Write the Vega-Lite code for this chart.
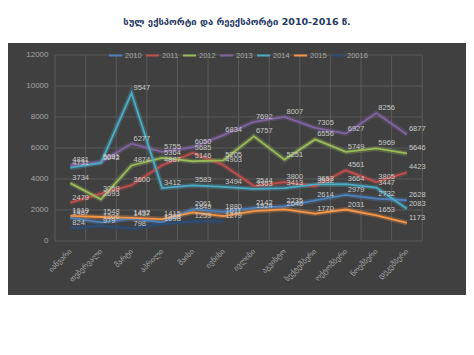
{
  "$schema": "https://vega.github.io/schema/vega-lite/v6.json",
  "width": 458,
  "height": 252,
  "autosize": "none",
  "padding": {"left": 8, "top": 43, "right": 8, "bottom": 60},
  "background": "white",
  "config": {
    "view": {"fill": "#404040", "stroke": null},
    "axis": {"grid": false, "domain": false, "ticks": false, "labelColor": "#a6a6a6", "labelFont": "Liberation Sans", "labelFontSize": 8}
  },
  "title": {
    "text": "სულ ექსპორტი და რეექსპორტი 2010-2016 წ.",
    "font": "DejaVu Sans",
    "fontSize": 9.5,
    "fontWeight": "bold",
    "color": "#1f3864",
    "anchor": "middle",
    "offset": 17
  },
  "datasets": {
    "ygrid": [{"g": 0}, {"g": 2000}, {"g": 4000}, {"g": 6000}, {"g": 8000}, {"g": 10000}, {"g": 12000}],
    "xgrid": [{"b": 0.5}, {"b": 1.5}, {"b": 2.5}, {"b": 3.5}, {"b": 4.5}, {"b": 5.5}, {"b": 6.5}, {"b": 7.5}, {"b": 8.5}, {"b": 9.5}, {"b": 10.5}, {"b": 11.5}, {"b": 12.5}],
    "trade": [
      {"m": 1, "year": "2010", "v": 1487}, {"m": 2, "year": "2010", "v": 1206}, {"m": 3, "year": "2010", "v": 1437}, {"m": 4, "year": "2010", "v": 1208}, {"m": 5, "year": "2010", "v": 2061}, {"m": 6, "year": "2010", "v": 1880}, {"m": 7, "year": "2010", "v": 2142}, {"m": 8, "year": "2010", "v": 2235}, {"m": 9, "year": "2010", "v": 2614}, {"m": 10, "year": "2010", "v": 2979}, {"m": 11, "year": "2010", "v": 2732}, {"m": 12, "year": "2010", "v": 2628},
      {"m": 1, "year": "2011", "v": 2479}, {"m": 2, "year": "2011", "v": 3059}, {"m": 3, "year": "2011", "v": 3600}, {"m": 4, "year": "2011", "v": 4887}, {"m": 5, "year": "2011", "v": 5685}, {"m": 6, "year": "2011", "v": 4903}, {"m": 7, "year": "2011", "v": 3544}, {"m": 8, "year": "2011", "v": 3800}, {"m": 9, "year": "2011", "v": 3532}, {"m": 10, "year": "2011", "v": 4561}, {"m": 11, "year": "2011", "v": 3805}, {"m": 12, "year": "2011", "v": 4423},
      {"m": 1, "year": "2012", "v": 3734}, {"m": 2, "year": "2012", "v": 2693}, {"m": 3, "year": "2012", "v": 4874}, {"m": 4, "year": "2012", "v": 5364}, {"m": 5, "year": "2012", "v": 5146}, {"m": 6, "year": "2012", "v": 5205}, {"m": 7, "year": "2012", "v": 6757}, {"m": 8, "year": "2012", "v": 5251}, {"m": 9, "year": "2012", "v": 6556}, {"m": 10, "year": "2012", "v": 5749}, {"m": 11, "year": "2012", "v": 5969}, {"m": 12, "year": "2012", "v": 5646},
      {"m": 1, "year": "2013", "v": 4881}, {"m": 2, "year": "2013", "v": 5091}, {"m": 3, "year": "2013", "v": 6277}, {"m": 4, "year": "2013", "v": 5755}, {"m": 5, "year": "2013", "v": 6050}, {"m": 6, "year": "2013", "v": 6834}, {"m": 7, "year": "2013", "v": 7692}, {"m": 8, "year": "2013", "v": 8007}, {"m": 9, "year": "2013", "v": 7305}, {"m": 10, "year": "2013", "v": 6927}, {"m": 11, "year": "2013", "v": 8256}, {"m": 12, "year": "2013", "v": 6877},
      {"m": 1, "year": "2014", "v": 4731}, {"m": 2, "year": "2014", "v": 5042}, {"m": 3, "year": "2014", "v": 9547}, {"m": 4, "year": "2014", "v": 3412}, {"m": 5, "year": "2014", "v": 3583}, {"m": 6, "year": "2014", "v": 3494}, {"m": 7, "year": "2014", "v": 3363}, {"m": 8, "year": "2014", "v": 3413}, {"m": 9, "year": "2014", "v": 3652}, {"m": 10, "year": "2014", "v": 3664}, {"m": 11, "year": "2014", "v": 3447}, {"m": 12, "year": "2014", "v": 2083},
      {"m": 1, "year": "2015", "v": 1619}, {"m": 2, "year": "2015", "v": 1548}, {"m": 3, "year": "2015", "v": 1492}, {"m": 4, "year": "2015", "v": 1415}, {"m": 5, "year": "2015", "v": 1849}, {"m": 6, "year": "2015", "v": 1611}, {"m": 7, "year": "2015", "v": 1924}, {"m": 8, "year": "2015", "v": 2046}, {"m": 9, "year": "2015", "v": 1770}, {"m": 10, "year": "2015", "v": 2031}, {"m": 11, "year": "2015", "v": 1653}, {"m": 12, "year": "2015", "v": 1173},
      {"m": 1, "year": "20016", "v": 824}, {"m": 2, "year": "20016", "v": 979}, {"m": 3, "year": "20016", "v": 798}, {"m": 4, "year": "20016", "v": 1098}, {"m": 5, "year": "20016", "v": 1259}, {"m": 6, "year": "20016", "v": 1279}
    ]
  },
  "layer": [
    {
      "data": {"name": "ygrid"},
      "mark": {"type": "rule", "color": "#5a5a5a", "strokeWidth": 1},
      "encoding": {
        "y": {"field": "g", "type": "quantitative", "scale": {"domain": [-3484, 12774], "nice": false, "zero": false},
              "axis": {"values": [0, 2000, 4000, 6000, 8000, 10000, 12000], "format": "d", "offset": -47, "labelPadding": 7, "title": null}},
        "x": {"datum": 0.5, "type": "quantitative", "scale": {"domain": [-1.036, 13.93], "nice": false, "zero": false},
              "axis": {"values": [1, 2, 3, 4, 5, 6, 7, 8, 9, 10, 11, 12], "offset": -54, "labelAngle": -45, "labelAlign": "right", "labelBaseline": "middle", "labelPadding": 9, "labelFont": "DejaVu Sans", "labelFontSize": 7.5, "labelOverlap": false, "title": null,
                       "labelExpr": "['იანვარი','თებერვალი','მარტი','აპრილი','მაისი','ივნისი','ივლისი','აგვისტო','სექტემბერი','ოქტომბერი','ნოემბერი','დეკემბერი'][datum.value - 1]"}},
        "x2": {"datum": 12.5}
      }
    },
    {
      "data": {"name": "xgrid"},
      "mark": {"type": "rule", "color": "#5a5a5a", "strokeWidth": 1},
      "encoding": {
        "x": {"field": "b", "type": "quantitative",
              "axis": {"values": [1, 2, 3, 4, 5, 6, 7, 8, 9, 10, 11, 12], "offset": -54, "labelAngle": -45, "labelAlign": "right", "labelBaseline": "middle", "labelPadding": 9, "labelFont": "DejaVu Sans", "labelFontSize": 7.5, "labelOverlap": false, "title": null,
                       "labelExpr": "['იანვარი','თებერვალი','მარტი','აპრილი','მაისი','ივნისი','ივლისი','აგვისტო','სექტემბერი','ოქტომბერი','ნოემბერი','დეკემბერი'][datum.value - 1]"}},
        "y": {"datum": 0, "type": "quantitative",
              "axis": {"values": [0, 2000, 4000, 6000, 8000, 10000, 12000], "format": "d", "offset": -47, "labelPadding": 7, "title": null}},
        "y2": {"datum": 12000}
      }
    },
    {
      "data": {"name": "trade"},
      "mark": {"type": "line", "strokeWidth": 5, "opacity": 0.3},
      "encoding": {
        "x": {"field": "m", "type": "quantitative",
              "axis": {"values": [1, 2, 3, 4, 5, 6, 7, 8, 9, 10, 11, 12], "offset": -54, "labelAngle": -45, "labelAlign": "right", "labelBaseline": "middle", "labelPadding": 9, "labelFont": "DejaVu Sans", "labelFontSize": 7.5, "labelOverlap": false, "title": null,
                       "labelExpr": "['იანვარი','თებერვალი','მარტი','აპრილი','მაისი','ივნისი','ივლისი','აგვისტო','სექტემბერი','ოქტომბერი','ნოემბერი','დეკემბერი'][datum.value - 1]"}},
        "y": {"field": "v", "type": "quantitative",
              "axis": {"values": [0, 2000, 4000, 6000, 8000, 10000, 12000], "format": "d", "offset": -47, "labelPadding": 7, "title": null}},
        "color": {"field": "year", "type": "nominal",
                  "scale": {"domain": ["2010", "2011", "2012", "2013", "2014", "2015", "20016"], "range": ["#4f81bd", "#c0504d", "#9bbb59", "#8064a2", "#4bacc6", "#f79646", "#2c4d75"]},
                  "legend": {"orient": "none", "legendX": 100, "legendY": 5, "direction": "horizontal", "columns": 7, "gridAlign": "none", "title": null, "symbolType": "stroke", "symbolSize": 169, "symbolStrokeWidth": 2, "symbolOpacity": 1, "labelFontSize": 7.5, "labelColor": "#a6a6a6", "labelFont": "Liberation Sans", "columnPadding": 0, "labelOffset": 2}}
      }
    },
    {
      "data": {"name": "trade"},
      "mark": {"type": "line", "strokeWidth": 1.8},
      "encoding": {
        "x": {"field": "m", "type": "quantitative",
              "axis": {"values": [1, 2, 3, 4, 5, 6, 7, 8, 9, 10, 11, 12], "offset": -54, "labelAngle": -45, "labelAlign": "right", "labelBaseline": "middle", "labelPadding": 9, "labelFont": "DejaVu Sans", "labelFontSize": 7.5, "labelOverlap": false, "title": null,
                       "labelExpr": "['იანვარი','თებერვალი','მარტი','აპრილი','მაისი','ივნისი','ივლისი','აგვისტო','სექტემბერი','ოქტომბერი','ნოემბერი','დეკემბერი'][datum.value - 1]"}},
        "y": {"field": "v", "type": "quantitative",
              "axis": {"values": [0, 2000, 4000, 6000, 8000, 10000, 12000], "format": "d", "offset": -47, "labelPadding": 7, "title": null}},
        "color": {"field": "year", "type": "nominal",
                  "scale": {"domain": ["2010", "2011", "2012", "2013", "2014", "2015", "20016"], "range": ["#4f81bd", "#c0504d", "#9bbb59", "#8064a2", "#4bacc6", "#f79646", "#2c4d75"]},
                  "legend": {"orient": "none", "legendX": 100, "legendY": 5, "direction": "horizontal", "columns": 7, "gridAlign": "none", "title": null, "symbolType": "stroke", "symbolSize": 169, "symbolStrokeWidth": 2, "symbolOpacity": 1, "labelFontSize": 7.5, "labelColor": "#a6a6a6", "labelFont": "Liberation Sans", "columnPadding": 0, "labelOffset": 2}}
      }
    },
    {
      "data": {"name": "trade"},
      "mark": {"type": "text", "align": "left", "baseline": "middle", "dx": 2, "dy": -5, "fontSize": 7.5, "font": "Liberation Sans", "color": "#c8c8c8"},
      "encoding": {
        "x": {"field": "m", "type": "quantitative",
              "axis": {"values": [1, 2, 3, 4, 5, 6, 7, 8, 9, 10, 11, 12], "offset": -54, "labelAngle": -45, "labelAlign": "right", "labelBaseline": "middle", "labelPadding": 9, "labelFont": "DejaVu Sans", "labelFontSize": 7.5, "labelOverlap": false, "title": null,
                       "labelExpr": "['იანვარი','თებერვალი','მარტი','აპრილი','მაისი','ივნისი','ივლისი','აგვისტო','სექტემბერი','ოქტომბერი','ნოემბერი','დეკემბერი'][datum.value - 1]"}},
        "y": {"field": "v", "type": "quantitative",
              "axis": {"values": [0, 2000, 4000, 6000, 8000, 10000, 12000], "format": "d", "offset": -47, "labelPadding": 7, "title": null}},
        "text": {"field": "v", "type": "quantitative", "format": "d"}
      }
    }
  ]
}
